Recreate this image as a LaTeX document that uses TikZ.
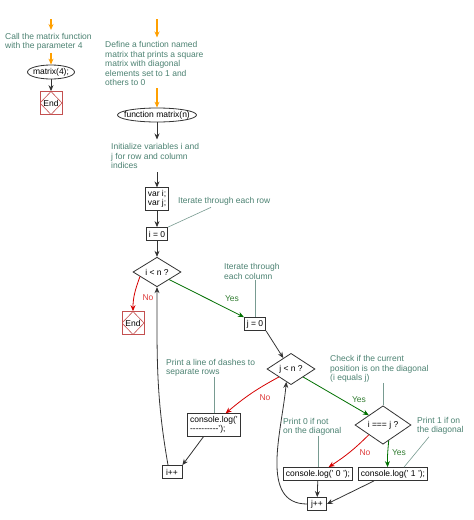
\documentclass[tikz,border=0pt]{standalone}
\usepackage{fontspec}
\setmainfont{Liberation Sans}
\usepackage{tikz}
\usetikzlibrary{shapes.geometric, arrows.meta, calc}
\definecolor{note}{RGB}{76, 130, 114}
\definecolor{noteline}{RGB}{120, 155, 145}
\definecolor{nored}{RGB}{214, 0, 0}
\definecolor{nolight}{RGB}{222, 60, 60}
\definecolor{yesgreen}{RGB}{0, 112, 0}
\definecolor{yeslight}{RGB}{50, 125, 50}
\definecolor{feed}{RGB}{255, 160, 0}
\definecolor{endred}{RGB}{196, 80, 80}
\definecolor{edge}{gray}{0.2}

\begin{document}
\begin{tikzpicture}[x=1pt, y=-1pt, font=\fontsize{8.5}{9.5}\selectfont,
  >={Stealth[length=6pt, width=5pt]},
  stmt/.style={draw=edge, line width=0.8pt, fill=white, inner sep=2.5pt,
    minimum height=13pt, align=left},
  cond/.style={diamond, draw=edge, line width=0.8pt, fill=white, inner sep=0pt,
    minimum width=48pt, minimum height=23pt},
  term/.style={ellipse, draw=edge, line width=0.8pt, fill=white,
    inner xsep=-12pt, inner ysep=-6pt, minimum height=14pt},
  stopbox/.style={draw=endred, line width=0.7pt, minimum width=22pt,
    minimum height=23pt, inner sep=0pt,
    path picture={\draw[endred, line width=0.6pt]
      (path picture bounding box.north) -- (path picture bounding box.east)
      -- (path picture bounding box.south) -- (path picture bounding box.west)
      -- cycle;}},
  remark/.style={text=note, align=left, anchor=north west, inner sep=0pt},
  tie/.style={draw=noteline, line width=0.6pt},
  flow/.style={draw=edge, line width=0.8pt, ->},
  feedin/.style={draw=feed, line width=1.2pt, ->},
  yesarrow/.style={draw=yesgreen, line width=0.8pt, ->},
  noarrow/.style={draw=nored, line width=0.8pt, ->},
  yeslbl/.style={text=yeslight},
  nolbl/.style={text=nolight}]

  \fill[white] (0, 0) rectangle (474, 520);
  \useasboundingbox (0, 0) rectangle (474, 520);

  % call of the function
  \coordinate (callin) at (51, 19);
  \node[remark] (callnote) at (5, 33) {Call the matrix function\\with the parameter 4};
  \node[term, minimum width=47pt] (call) at (51, 72) {matrix(4);};
  \node[stopbox] (endA) at (51, 103) {End};

  \draw[feedin, shorten >=3pt] (callin) -- (callin |- callnote.north);
  \draw[feedin, shorten <=2pt] (call.north |- callnote.south) -- (call.north);
  \draw[flow] (call) -- (endA);

  % the function itself
  \coordinate (defin) at (157, 19);
  \node[remark] (defnote) at (105, 41.5) {Define a function named\\matrix that prints a square\\matrix with diagonal\\elements set to 1 and\\others to 0};
  \node[term, minimum width=79pt] (func) at (157, 115) {function matrix(n)};
  \node[remark] (initnote) at (111, 143.5) {Initialize variables i and\\j for row and column\\indices};
  \node[stmt] (vars) at (157, 199) {var i;\\var j;};
  \node[stmt] (izero) at (157, 234) {i = 0};
  \node[remark] (rownote) at (178, 197) {Iterate through each row};

  \draw[feedin, shorten >=4pt] (defin) -- (defin |- defnote.north);
  \draw[feedin, shorten <=2pt] (func.north |- defnote.south) -- (func.north);
  \draw[flow, shorten >=4pt] (func) -- (func.south |- initnote.north);
  \draw[flow, shorten <=3pt] (vars.north |- initnote.south) -- (vars);
  \draw[flow] (vars) -- (izero);
  \draw[tie] ($(rownote.south west)+(33, 2)$) -- (izero.north east);

  % outer loop
  \node[cond] (icheck) at (157, 272) {i < n ?};
  \node[stopbox] (endB) at (133, 323) {End};
  \node[stmt] (jzero) at (255, 324) {j = 0};
  \node[remark] (colnote) at (224, 263.5) {Iterate through\\each column};

  \draw[flow] (izero) -- (icheck);
  \draw[noarrow] (icheck.195) to[out=250, in=90] (endB.north);
  \node[nolbl] (noend) at (148, 298) {No};
  \draw[yesarrow] (icheck.south east) -- (jzero.north west);
  \node[yeslbl] (yesrow) at (232, 299) {Yes};
  \draw[tie] (jzero.north |- colnote.south) -- (jzero.north);

  % inner loop
  \node[cond] (jcheck) at (291, 369) {j < n ?};
  \node[remark] (diagnote) at (330, 355.5) {Check if the current\\position is on the diagonal\\(i equals j)};
  \node[cond, minimum width=56pt, minimum height=26pt] (eqcheck) at (383, 425) {i === j ?};
  \node[remark] (dashnote) at (166, 359) {Print a line of dashes to\\separate rows};
  \node[stmt] (dashes) at (214, 425) {console.log('\\-{}-{}-{}-{}-{}-{}-{}-{}-{}-');};
  \node[stmt, minimum width=20pt] (iinc) at (172, 472) {i++};

  \draw[flow] (jzero.south east) -- (jcheck.125);
  \draw[yesarrow] (jcheck.south east) -- (eqcheck.north west);
  \node[yeslbl] (yescol) at (359, 400) {Yes};
  \draw[tie] (eqcheck.north |- diagnote.south) -- (eqcheck.north);
  \draw[noarrow] (jcheck.south west) to[bend right=6] (dashes.45);
  \node[nolbl] (nocol) at (265, 398) {No};
  \draw[tie] (dashes.north |- dashnote.south) -- (dashes.north);
  \draw[flow] (dashes.228) -- (iinc.north east);
  \draw[flow] (iinc.120) to[out=100, in=-90] (icheck.south);

  % the two prints
  \node[remark] (zeronote) at (283, 418) {Print 0 if not\\on the diagonal};
  \node[remark] (onenote) at (417, 417) {Print 1 if on\\the diagonal};
  \node[stmt] (logzero) at (318, 474) {console.log(' 0 ');};
  \node[stmt] (logone) at (393, 474) {console.log(' 1 ');};
  \node[stmt, minimum width=19pt] (jinc) at (317, 504) {j++};

  \draw[noarrow] (eqcheck.south west) to[bend left=6] (logzero.33);
  \node[nolbl] (nodiag) at (365, 453) {No};
  \draw[yesarrow] (eqcheck.-70) to[out=-95, in=92] (logone.128);
  \node[yeslbl] (yesdiag) at (399, 453) {Yes};
  \draw[tie] (logzero.north |- zeronote.south) -- (logzero.north);
  \draw[tie] ($(onenote.south west)+(12, 2)$) -- ($(logone.north east)+(-24, 0)$);
  \draw[flow] (logzero) -- (jinc);
  \draw[flow] (logone.200) -- (jinc.east);
  \draw[flow] (jinc.west) to[out=180, in=-95] (jcheck.250);

\end{tikzpicture}
\end{document}
